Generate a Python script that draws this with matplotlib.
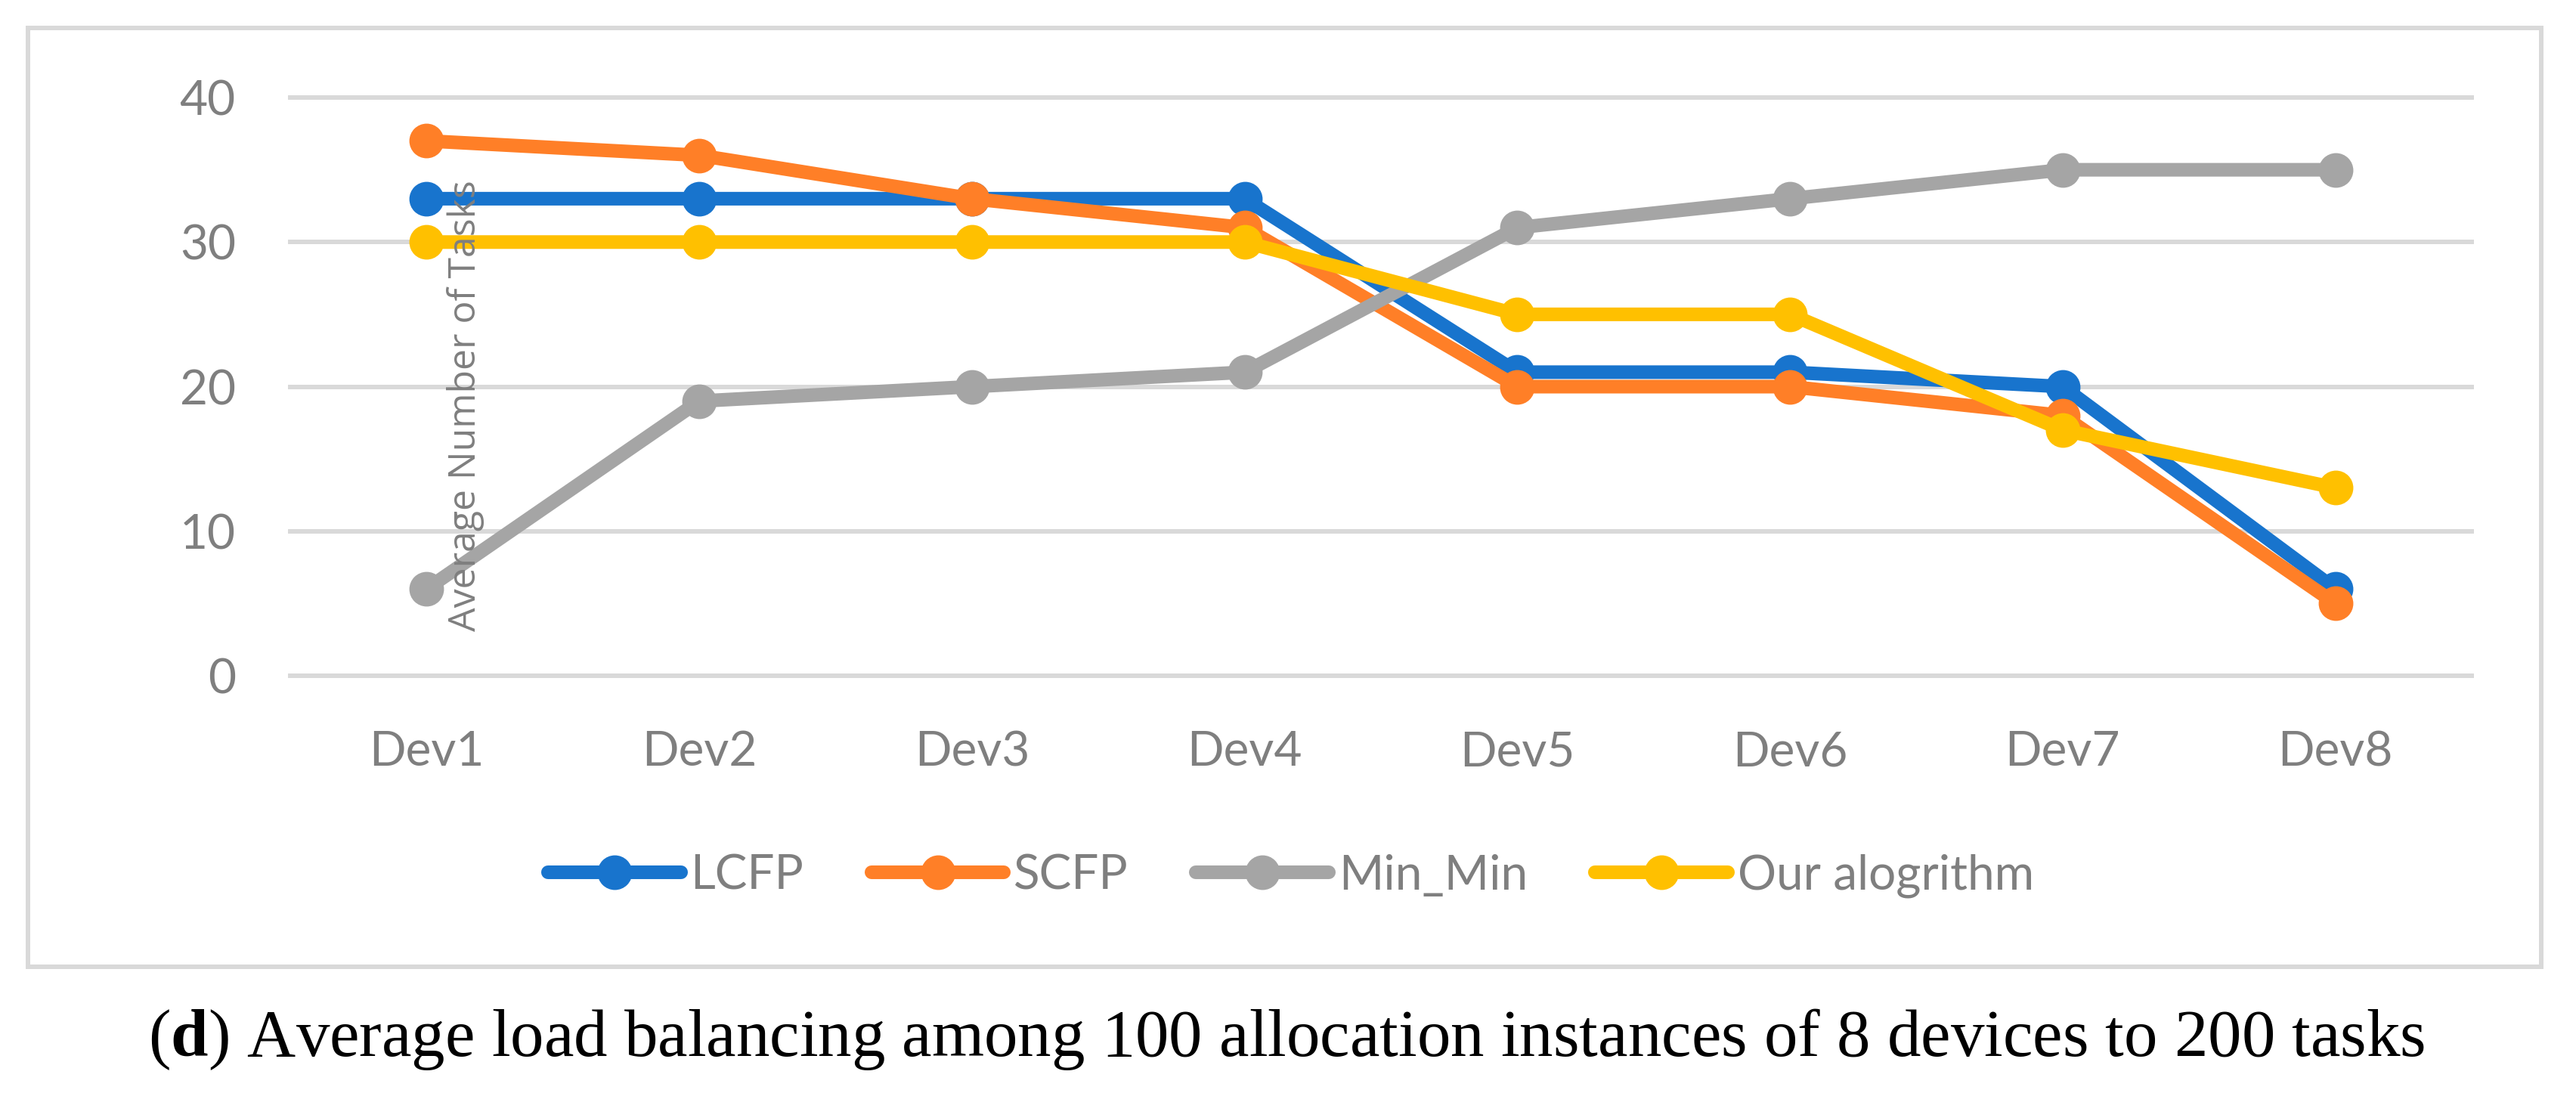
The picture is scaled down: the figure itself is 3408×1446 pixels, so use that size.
import matplotlib
matplotlib.use("Agg")
import matplotlib.pyplot as plt
from matplotlib.patches import Rectangle

# Data
devices = ["Dev1", "Dev2", "Dev3", "Dev4", "Dev5", "Dev6", "Dev7", "Dev8"]
lcfp = [33, 33, 33, 33, 21, 21, 20, 6]
scfp = [37, 36, 33, 31, 20, 20, 18, 5]
min_min = [6, 19, 20, 21, 31, 33, 35, 35]
ours = [30, 30, 30, 30, 25, 25, 17, 13]
series_names = ["LCFP", "SCFP", "Min_Min", "Our alogrithm"]
y_ticks = [0, 10, 20, 30, 40]

colors = ["#1874CD", "#FF7F27", "#A5A5A5", "#FFC000"]
text_grey = "#7F7F7F"
grid_grey = "#D9D9D9"

plt.rcParams["mathtext.fontset"] = "custom"
plt.rcParams["mathtext.bf"] = "Liberation Serif:bold"
plt.rcParams["mathtext.rm"] = "Liberation Serif"

W, H = 3408, 1446
fig = plt.figure(figsize=(W / 100, H / 100), dpi=100)

# chart area frame
fig.patches.append(Rectangle((37 / W, 1 - 1279 / H), (3362 - 37) / W, (1279 - 37) / H,
                             transform=fig.transFigure, fill=False,
                             edgecolor=grid_grey, linewidth=4.3))

ax = fig.add_axes([384 / W, 1 - 894 / H, (3270 - 384) / W, (894 - 129) / H])

x = range(len(devices))
for vals, name, c in zip([lcfp, scfp, min_min, ours], series_names, colors):
    ax.plot(x, vals, color=c, linewidth=13, marker="o", markersize=32,
            label=name, clip_on=False, solid_capstyle="round")

ax.set_xlim(-0.5, len(devices) - 0.5)
ax.set_ylim(0, 40)
ax.set_yticks(y_ticks)
ax.set_xticks(list(x))
ax.set_xticklabels(devices)
for s in ax.spines.values():
    s.set_visible(False)
ax.yaxis.grid(True, color=grid_grey, linewidth=4.3)
ax.set_axisbelow(True)
for gl in ax.get_ygridlines():
    gl.set_clip_on(False)
ax.tick_params(axis="both", length=0, labelsize=46, labelcolor=text_grey)
ax.tick_params(axis="y", pad=52)
ax.tick_params(axis="x", pad=52)
for lab in ax.get_xticklabels() + ax.get_yticklabels():
    lab.set_fontfamily("Lato")

# y-axis title sits inside the plot
fig.text(616 / W, 1 - 537 / H, "Average Number of Tasks", rotation=90,
         ha="center", va="center", fontsize=36, color=text_grey,
         family="Open Sans")

leg = fig.legend(loc="center", bbox_to_anchor=(1708 / W, 1 - 1159 / H),
                 ncol=4, frameon=False, handlelength=2.75, handletextpad=0.2,
                 columnspacing=1.4, prop={"family": "Lato", "size": 46})
for t in leg.get_texts():
    t.set_color(text_grey)

fig.text(1702 / W, 1 - 1397 / H,
         r"($\mathbf{d}$) Average load balancing among 100 allocation instances of 8 devices to 200 tasks",
         ha="center", va="baseline", fontsize=64, family="Liberation Serif",
         color="black")

fig.savefig("out.png", dpi=100)
